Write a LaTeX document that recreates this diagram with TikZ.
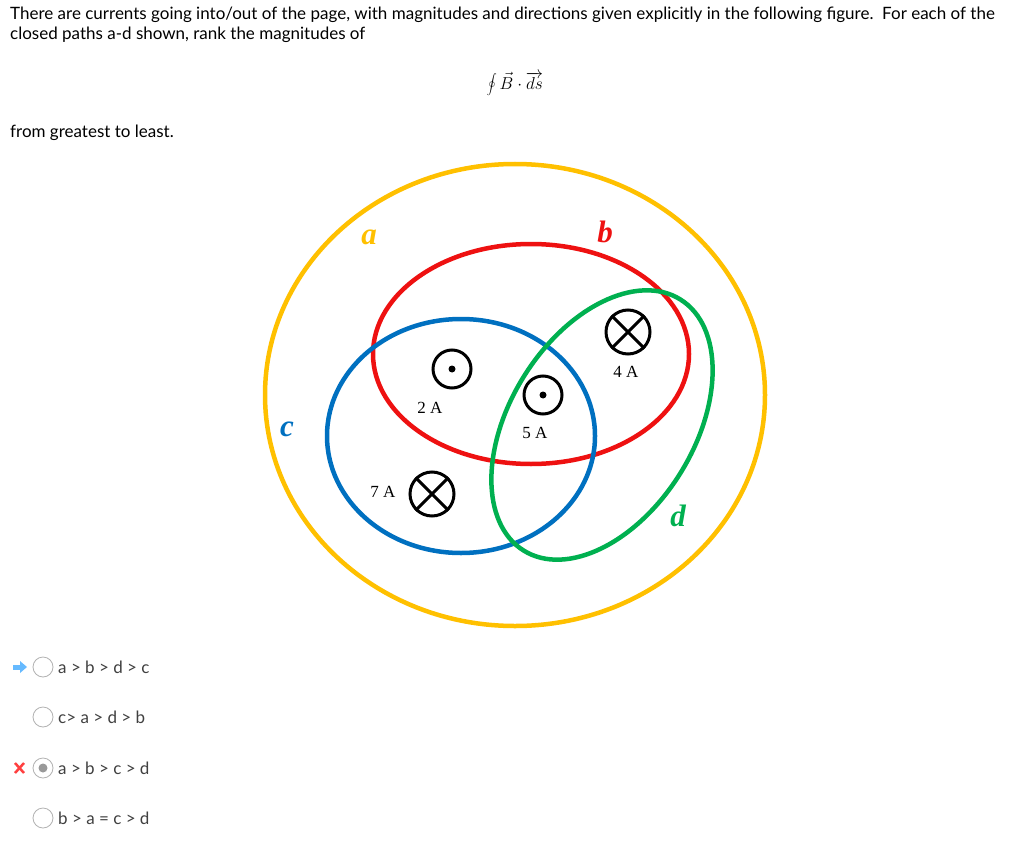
\documentclass[tikz,border=0pt]{standalone}
\usepackage{fontspec}
\setmainfont{Lato}
\newfontfamily\serifx{Liberation Serif}
\begin{document}
\begin{tikzpicture}[x=1pt,y=-1pt,
  loop/.style={line width=4.5pt},
  src/.style={circle,draw,line width=3pt,minimum size=38pt,inner sep=0pt},
  amp/.style={font=\serifx\fontsize{17}{17}\selectfont},
  lbl/.style={font=\serifx\fontsize{31}{31}\selectfont\bfseries\itshape},
  txt/.style={font=\fontsize{17}{20}\selectfont,anchor=west,inner sep=0pt},
  radio/.style={circle,draw=gray!60,line width=0.8pt,minimum size=20pt,inner sep=0pt}]
\definecolor{cy}{HTML}{FFC000}\definecolor{cr}{HTML}{EE1111}
\definecolor{cb}{HTML}{0070C0}\definecolor{cg}{HTML}{00B050}
\useasboundingbox (0,0) rectangle (1024,842);
\fill[white] (0,0) rectangle (1024,842);
\node[txt] (t1) at (10,15) {There are currents going into/out of the page, with magnitudes and directions given explicitly in the following figure.\ \ For each of the};
\node[txt] (t2) at (10,35) {closed paths a-d shown, rank the magnitudes of};
\node (f) at (515,84) {\fontsize{17}{17}\selectfont$\displaystyle\oint \vec{B}\cdot\overrightarrow{ds}$};
\node[txt] (t3) at (10,133) {from greatest to least.};
\draw[loop,cy] (515,395) ellipse (250 and 231);
\draw[loop,cr] (531,354) ellipse (158 and 110);
\draw[loop,cb] (461,436) ellipse (134 and 117);
\draw[loop,cg,shift={(602,425)},rotate=58] (0,0) ellipse (148 and 92);
\node[src] (s2) at (452,369) {};\fill (s2) circle (3.5pt);
\node[src] (s5) at (543,395) {};\fill (s5) circle (3.5pt);
\node[src,minimum size=44pt] (s7) at (432,494) {};
\draw[line width=3pt] (s7.north west)--(s7.south east) (s7.north east)--(s7.south west);
\node[src,minimum size=44pt] (s4) at (628,332) {};
\draw[line width=3pt] (s4.north west)--(s4.south east) (s4.north east)--(s4.south west);
\node[amp] (l2) at (430,408) {2 A};
\node[amp] (l5) at (535,433) {5 A};
\node[amp] (l7) at (383,492) {7 A};
\node[amp] (l4) at (626,372) {4 A};
\node[lbl,cy] (la) at (369,237) {a};
\node[lbl,cr] (lb) at (605,232) {b};
\node[lbl,cb] (lc) at (287,429) {c};
\node[lbl,cg] (ld) at (678,516) {d};
\foreach \y/\t/\n in {667/{a > b > d > c}/1,717/{c> a > d > b}/2,768/{a > b > c > d}/3,818/{b > a = c > d}/4}{
  \node[radio] (r\n) at (43,\y) {};
  \node[txt,text=black!75] (o\n) at (58,\y) {\t};
}
\fill[gray!80] (r3) circle (4.5pt);
\fill[blue!45!cyan!60] (13,664.5) rectangle (20,669.5);
\fill[blue!45!cyan!60] (20,661) -- (27,667) -- (20,673) -- cycle;
\draw[red!75,line width=2.5pt] (15,763)--(24,773) (24,763)--(15,773);
\end{tikzpicture}
\end{document}
